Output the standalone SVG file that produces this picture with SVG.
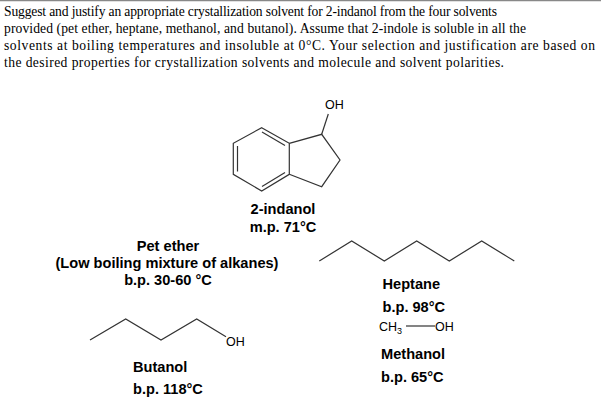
<svg xmlns="http://www.w3.org/2000/svg" width="601" height="409" viewBox="0 0 601 409">
<style>
.q{font-family:"Liberation Serif",serif;font-size:13.6px;fill:#000}
.b{font-family:"Liberation Sans",Arial,sans-serif;font-size:14.6px;font-weight:bold;fill:#000}
.a{font-family:"Liberation Sans",Arial,sans-serif;font-size:12.5px;fill:#000}
.bond{stroke:#333;stroke-width:1.2;fill:none}
</style>
<rect width="601" height="409" fill="#fff"/>
<line x1="0" y1="0.5" x2="601" y2="0.5" stroke="#888" stroke-width="1.5"/>
<g id="question">
<text class="q" x="4" y="16" textLength="493">Suggest and justify an appropriate crystallization solvent for 2-indanol from the four solvents</text>
<text class="q" x="4" y="33" textLength="522">provided (pet ether, heptane, methanol, and butanol). Assume that 2-indole is soluble in all the</text>
<text class="q" x="4" y="50" textLength="591">solvents at boiling temperatures and insoluble at 0°C. Your selection and justification are based on</text>
<text class="q" x="4" y="67" textLength="500">the desired properties for crystallization solvents and molecule and solvent polarities.</text>
</g>
<g id="indanol">
<polygon class="bond" points="261.7,127.7 289.3,143.3 289.3,174.3 261.7,191 233.3,174.3 233.3,143.3"/>
<line class="bond" x1="262" y1="132" x2="285" y2="145.5"/>
<line class="bond" x2="262" y2="186.5" x1="285" y1="172.5"/>
<line class="bond" x1="237.5" y1="146" x2="237.5" y2="171.5"/>
<polyline class="bond" points="289.3,143.3 321.7,134.3 340,160 321.7,186.7 289.3,174.3"/>
<line class="bond" x1="321.7" y1="134.3" x2="328.3" y2="114"/>
<text class="a" x="325" y="109">OH</text>
<text class="b" x="283" y="214" text-anchor="middle">2-indanol</text>
<text class="b" x="283" y="232" text-anchor="middle">m.p. 71°C</text>
</g>
<g id="petether">
<text class="b" x="168" y="251" text-anchor="middle">Pet ether</text>
<text class="b" x="167" y="268" text-anchor="middle">(Low boiling mixture of alkanes)</text>
<text class="b" x="168" y="285" text-anchor="middle">b.p. 30-60 °C</text>
</g>
<g id="heptane">
<polyline class="bond" points="319.3,261 351.7,241 384.3,261 416.7,241 449.3,261 481.7,241 514.3,261"/>
<text class="b" x="382.5" y="289">Heptane</text>
<text class="b" x="382.5" y="312">b.p. 98°C</text>
</g>
<g id="methanol">
<text class="a" x="379" y="331">CH<tspan font-size="9" dy="3">3</tspan></text>
<line class="bond" x1="406" y1="326" x2="435" y2="326"/>
<text class="a" x="435" y="331">OH</text>
<text class="b" x="381" y="359">Methanol</text>
<text class="b" x="381" y="382">b.p. 65°C</text>
</g>
<g id="butanol">
<polyline class="bond" points="90,340 125.7,319 161,340 196.7,319 226,336.7"/>
<text class="a" x="226" y="346">OH</text>
<text class="b" x="133" y="372">Butanol</text>
<text class="b" x="133" y="394">b.p. 118°C</text>
</g>
<g id="connectors"/>
</svg>
